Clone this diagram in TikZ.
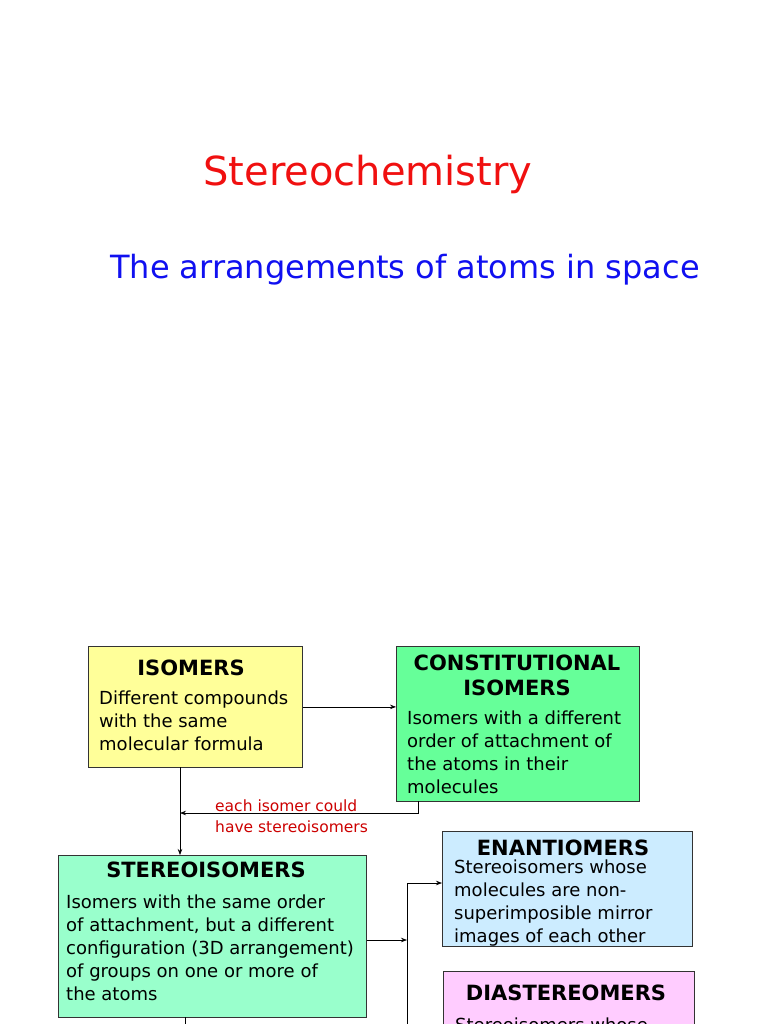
\documentclass[tikz,border=0pt]{standalone}
\usepackage{fontspec}
\setmainfont{DejaVu Sans}
\usetikzlibrary{arrows.meta}
\definecolor{isoyellow}{HTML}{FFFF99}
\definecolor{consgreen}{HTML}{66FF99}
\definecolor{stereogreen}{HTML}{99FFCC}
\definecolor{enanblue}{HTML}{CCECFF}
\definecolor{diapink}{HTML}{FFCCFF}
\definecolor{titlered}{HTML}{F01010}
\definecolor{subblue}{HTML}{1010F0}
\definecolor{notered}{HTML}{CC0000}
\tikzset{box/.style={rectangle, draw=black!80, line width=0.8pt, anchor=north west, inner sep=0pt}}
\tikzset{head/.style={font=\fontsize{21}{25}\selectfont\bfseries, inner sep=0pt, align=center, anchor=base}}
% multi-line nodes: the base anchor sits on the last line
\tikzset{body/.style={font=\fontsize{18}{23}\selectfont, inner sep=0pt, align=left, anchor=base west}}
\tikzset{link/.style={-{Stealth[length=6pt,width=4.5pt]}, line width=0.7pt}}
\tikzset{wire/.style={line width=0.7pt}}

\begin{document}
\begin{tikzpicture}[x=1pt,y=-1pt]
    \useasboundingbox (0,0) rectangle (768,1024);
    \clip (0,0) rectangle (768,1024);

    \node[font=\fontsize{40}{48}\selectfont, text=titlered, anchor=base, inner sep=0pt] (title) at (368,186) {Stereochemistry};
    \node[font=\fontsize{32}{38}\selectfont, text=subblue, anchor=base, inner sep=0pt] (subtitle) at (405,278) {The arrangements of atoms in space};

    % boxes
    \node[box, fill=isoyellow,   minimum width=214, minimum height=121] (iso)    at (88,646)  {};
    \node[box, fill=consgreen,   minimum width=243, minimum height=155] (cons)   at (396,646) {};
    \node[box, fill=stereogreen, minimum width=308, minimum height=162] (stereo) at (58,855)  {};
    \node[box, fill=enanblue,    minimum width=250, minimum height=115] (enan)   at (442,831) {};
    \node[box, fill=diapink,     minimum width=251, minimum height=120] (dia)    at (443,971) {};

    % texts
    \node[head] (isohead) at (191,675) {ISOMERS};
    \node[body] (isobody) at (99,750) {Different compounds\\with the same\\molecular formula};
    \node[head] (conshead) at (517,695) {CONSTITUTIONAL\\ISOMERS};
    \node[body] (consbody) at (407,793) {Isomers with a different\\order of attachment of\\the atoms in their\\molecules};
    \node[head] (stereohead) at (206,877) {STEREOISOMERS};
    \node[body] (stereobody) at (66,1000) {Isomers with the same order\\of attachment, but a different\\configuration (3D arrangement)\\of groups on one or more of\\the atoms};
    \node[head] (enanhead) at (563,855) {ENANTIOMERS};
    \node[body] (enanbody) at (454,942) {Stereoisomers whose\\molecules are non-\\superimposible mirror\\images of each other};
    \node[head] (diahead) at (566,1000) {DIASTEREOMERS};
    \node[body] (diabody) at (455,1031) {Stereoisomers whose};
    \node[font=\fontsize{15.5}{21}\selectfont, text=notered, inner sep=0pt, align=left, anchor=base west] (note) at (215,832) {each isomer could\\have stereoisomers};

    % connectors
    \coordinate (isodown) at (180,767);
    \coordinate (join) at (180,813);
    \coordinate (consdown) at (418,801);
    \coordinate (branch) at (407,940);
    \coordinate (branchtop) at (407,883);
    \coordinate (branchend) at (407,1030);
    \coordinate (stereodown) at (185,1017);
    \coordinate (stereoend) at (185,1030);

    \draw[link] (iso.east) -- (iso.east -| cons.west);
    \draw[link] (isodown) -- (isodown |- stereo.north);
    \draw[link] (consdown) |- (join);
    \draw[link] (stereo.east |- branch) -- (branch);
    \draw[wire] (branchtop) -- (branchend);
    \draw[link] (branchtop) -- (branchtop -| enan.west);
    \draw[wire] (stereodown) -- (stereoend);

\end{tikzpicture}
\end{document}
